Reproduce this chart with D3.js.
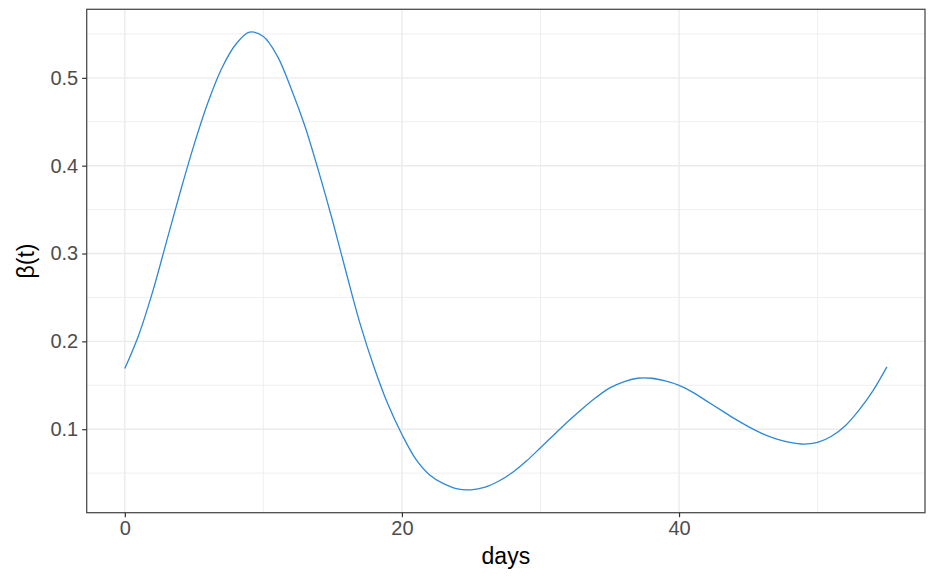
<!DOCTYPE html>
<html>
<head>
<meta charset="utf-8">
<script src="https://cdn.jsdelivr.net/npm/d3@7"></script>
<style>
  body { margin: 0; background: #fff; }
  text { font-family: "Liberation Sans", Arial, sans-serif; }
</style>
</head>
<body>
<script>
var width = 936;
var height = 582;
var margin = { top: 9.3, right: 11, bottom: 69.3, left: 86.7 };

// beta(t), one value per day
var days = [0, 1, 2, 3, 4, 5, 6, 7, 8, 9, 10, 11, 12, 13, 14, 15, 16, 17, 18, 19,
  20, 21, 22, 23, 24, 25, 26, 27, 28, 29, 30, 31, 32, 33, 34, 35, 36, 37, 38, 39,
  40, 41, 42, 43, 44, 45, 46, 47, 48, 49, 50, 51, 52, 53, 54, 55];
var beta = [0.169, 0.207, 0.256, 0.313, 0.370, 0.424, 0.472, 0.511, 0.538, 0.552,
  0.547, 0.525, 0.488, 0.445, 0.393, 0.337, 0.277, 0.219, 0.170, 0.128,
  0.094, 0.066, 0.048, 0.038, 0.032, 0.031, 0.034, 0.041, 0.051, 0.064,
  0.079, 0.094, 0.109, 0.123, 0.136, 0.147, 0.154, 0.158, 0.158, 0.155,
  0.150, 0.142, 0.132, 0.122, 0.112, 0.103, 0.095, 0.089, 0.085, 0.083,
  0.085, 0.092, 0.104, 0.122, 0.144, 0.171];

var xTicks = [0, 20, 40];
var xMinor = [10, 30, 50];
var yTicks = [0.1, 0.2, 0.3, 0.4, 0.5];
var yMinor = [0.05, 0.15, 0.25, 0.35, 0.45, 0.55];

var data = days.map(function(d, i) {
  return { day: d, beta: beta[i] };
});

var w = width - margin.left - margin.right;
var h = height - margin.top - margin.bottom;

// ggplot-style 5% expansion
function expand(ext) {
  var pad = (ext[1] - ext[0]) * 0.05;
  return [ext[0] - pad, ext[1] + pad];
}

var xScale = d3.scaleLinear()
  .domain(expand(d3.extent(days)))
  .range([0, w]);

var yScale = d3.scaleLinear()
  .domain(expand(d3.extent(beta)))
  .range([h, 0]);

var svg = d3.select('body')
  .append('svg')
  .attr('width', width)
  .attr('height', height);

var g = svg.append('g')
  .attr('transform', 'translate(' + margin.left + ',' + margin.top + ')');

// grid
g.selectAll('line.xminor')
  .data(xMinor)
  .enter()
  .append('line')
  .attr('x1', function(d) { return xScale(d); })
  .attr('x2', function(d) { return xScale(d); })
  .attr('y1', 0)
  .attr('y2', h)
  .attr('stroke', '#ebebeb')
  .attr('stroke-width', 0.8);

g.selectAll('line.yminor')
  .data(yMinor)
  .enter()
  .append('line')
  .attr('x1', 0)
  .attr('x2', w)
  .attr('y1', function(d) { return yScale(d); })
  .attr('y2', function(d) { return yScale(d); })
  .attr('stroke', '#ebebeb')
  .attr('stroke-width', 0.8);

g.selectAll('line.xmajor')
  .data(xTicks)
  .enter()
  .append('line')
  .attr('x1', function(d) { return xScale(d); })
  .attr('x2', function(d) { return xScale(d); })
  .attr('y1', 0)
  .attr('y2', h)
  .attr('stroke', '#ebebeb')
  .attr('stroke-width', 1.4);

g.selectAll('line.ymajor')
  .data(yTicks)
  .enter()
  .append('line')
  .attr('x1', 0)
  .attr('x2', w)
  .attr('y1', function(d) { return yScale(d); })
  .attr('y2', function(d) { return yScale(d); })
  .attr('stroke', '#ebebeb')
  .attr('stroke-width', 1.4);

// curve
var line = d3.line()
  .x(function(d) { return xScale(d.day); })
  .y(function(d) { return yScale(d.beta); })
  .curve(d3.curveCatmullRom);

g.append('path')
  .datum(data)
  .attr('d', line)
  .attr('fill', 'none')
  .attr('stroke', '#2f88d6')
  .attr('stroke-width', 1.3);

// panel border
g.append('rect')
  .attr('x', 0)
  .attr('y', 0)
  .attr('width', w)
  .attr('height', h)
  .attr('fill', 'none')
  .attr('stroke', '#4d4d4d')
  .attr('stroke-width', 1.3);

// axes
var xAxis = d3.axisBottom(xScale)
  .tickValues(xTicks)
  .tickFormat(d3.format('d'))
  .tickSize(4.5)
  .tickPadding(4);

var yAxis = d3.axisLeft(yScale)
  .tickValues(yTicks)
  .tickFormat(d3.format('.1f'))
  .tickSize(4.5)
  .tickPadding(4);

var gx = g.append('g')
  .attr('transform', 'translate(0,' + h + ')')
  .call(xAxis);

var gy = g.append('g')
  .call(yAxis);

[gx, gy].forEach(function(ax) {
  ax.select('.domain').remove();
  ax.selectAll('line').attr('stroke', '#333333').attr('stroke-width', 1.2);
  ax.selectAll('text')
    .attr('fill', '#4d4d4d')
    .attr('font-size', '20px')
    .style('font-family', '"Liberation Sans", Arial, sans-serif');
});

// axis titles
svg.append('text')
  .attr('x', margin.left + w / 2)
  .attr('y', 564)
  .attr('text-anchor', 'middle')
  .attr('font-size', '23px')
  .attr('fill', '#000')
  .text('days');

svg.append('text')
  .attr('transform', 'translate(34,' + (margin.top + h / 2) + ') rotate(-90)')
  .attr('text-anchor', 'middle')
  .attr('font-size', '23px')
  .attr('fill', '#000')
  .text('β(t)');
</script>
</body>
</html>
